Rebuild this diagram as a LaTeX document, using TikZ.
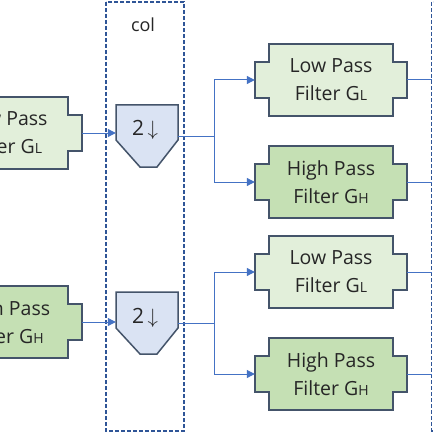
\documentclass[tikz,border=0pt]{standalone}
\usepackage{fontspec}
\setmainfont{Open Sans}
\usetikzlibrary{arrows.meta,calc}
\definecolor{lpfill}{HTML}{E2EFDA}
\definecolor{hpfill}{HTML}{C5E0B4}
\definecolor{edgecol}{HTML}{44546A}
\definecolor{dsfill}{HTML}{DAE3F3}
\definecolor{conncol}{HTML}{4472C4}
\definecolor{dashcol}{HTML}{2F5597}
\definecolor{txt}{HTML}{262626}
\newcommand\filterbox[4]{%
  \begin{scope}[shift={#2}]
    \draw[outline,fill=#3] (-62,-36) -- (62,-36) -- (62,-18) -- (76,-18) -- (76,18) -- (62,18)
      -- (62,36) -- (-62,36) -- (-62,18) -- (-76,18) -- (-76,-18) -- (-62,-18) -- cycle;
  \end{scope}
  \node[boxtext,minimum width=152pt,minimum height=36pt] (#1) at #2 {#4};
}
\newcommand\lowtext{Low Pass\\Filter G{\fontsize{14}{14}\selectfont L}}
\newcommand\hightext{High Pass\\Filter G{\fontsize{14}{14}\selectfont H}}
\begin{document}
\begin{tikzpicture}[x=1pt,y=-1pt,
  outline/.style={draw=edgecol,line width=1.8pt,line join=miter},
  boxtext/.style={font=\fontsize{19.5}{28}\selectfont,align=center,inner sep=0pt,text=txt},
  conn/.style={draw=conncol,line width=1pt},
  arr/.style={conn,-{Triangle[length=8pt,width=8pt]}},
  column/.style={draw=dashcol,line width=1.7pt,dash pattern=on 4pt off 2pt},
  dsbox/.style={draw=none,minimum width=62pt,minimum height=62pt,inner sep=0pt}]
\useasboundingbox (0,0) rectangle (433,433);
\clip (0,0) rectangle (433,433);
\fill[white] (0,0) rectangle (433,433);

% column
\draw[column] (106,2) rectangle (184,431);
\node[font=\fontsize{18}{18}\selectfont,text=txt] (col) at (143,25) {col};
\draw[column] (431.5,2) rectangle (470,431);
\coordinate (rc) at (431.5,0);

% left boxes (cut off)
\filterbox{lf1}{(6,133)}{lpfill}{\lowtext}
\filterbox{lf2}{(6,322)}{hpfill}{\hightext}

% downsamplers
\draw[outline,line width=1.5pt,fill=dsfill] (116,105) -- (178,105) -- (178,140) -- (157,167) -- (140,167) -- (116,140) -- cycle;
\node[dsbox] (ds1) at (147,136) {};
\node[font=\fontsize{21}{21}\selectfont,text=txt] (ds1t) at (145,130) {2\,$\downarrow$};
\draw[outline,line width=1.5pt,fill=dsfill] (116,292) -- (178,292) -- (178,328) -- (157,354) -- (140,354) -- (116,328) -- cycle;
\node[dsbox] (ds2) at (147,323) {};
\node[font=\fontsize{21}{21}\selectfont,text=txt] (ds2t) at (145,318) {2\,$\downarrow$};

% right filters
\filterbox{lp1}{(331,80)}{lpfill}{\lowtext}
\filterbox{hp1}{(331,182)}{hpfill}{\hightext}
\filterbox{lp2}{(331,272)}{lpfill}{\lowtext}
\filterbox{hp2}{(331,374)}{hpfill}{\hightext}

% connectors
\draw[arr] (lf1.east) -- (lf1.east -| ds1.west);
\draw[arr] (lf2.east) -- (lf2.east -| ds2.west);
\coordinate (j1) at (214,136);
\coordinate (j2) at (214,323);
\draw[conn] (ds1.east) -- (j1);
\draw[arr] (j1) |- (lp1.west);
\draw[arr] (j1) |- (hp1.west);
\draw[conn] (ds2.east) -- (j2);
\draw[arr] (j2) |- (lp2.west);
\draw[arr] (j2) |- (hp2.west);
\draw[conn] (lp1.east) -- (lp1.east -| rc);
\draw[conn] (hp1.east) -- (hp1.east -| rc);
\draw[conn] (lp2.east) -- (lp2.east -| rc);
\draw[conn] (hp2.east) -- (hp2.east -| rc);
\end{tikzpicture}
\end{document}
